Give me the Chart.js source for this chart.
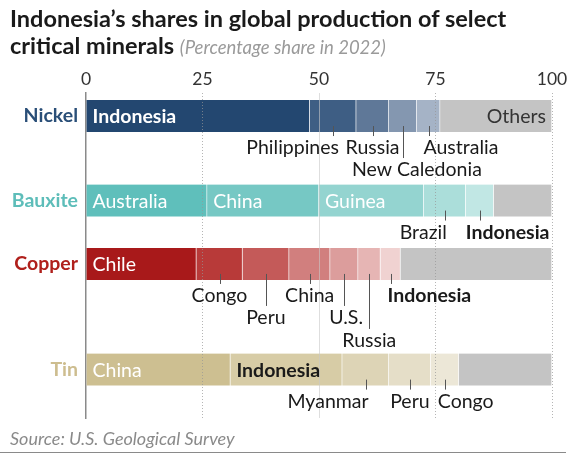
<!DOCTYPE html>
<html><head><meta charset="utf-8">
<script src="https://cdn.jsdelivr.net/npm/chart.js@4.4.1/dist/chart.umd.min.js"></script>
<style>
html,body{margin:0;padding:0;background:#fff;}
#wrap{position:relative;width:572px;height:455px;overflow:hidden;font-family:Lato,"Noto Sans",sans-serif;}
#c{position:absolute;left:0;top:0;}
.title{position:absolute;left:10px;top:5px;font-weight:700;font-size:23.5px;line-height:27px;color:#1a1a1a;white-space:nowrap;}
.title .sub{font-weight:400;font-style:italic;font-size:18.5px;color:#9a9a9a;}
.source{position:absolute;left:10px;top:427px;font-style:italic;font-size:18px;color:#8a8a8a;}
.rule{position:absolute;left:0;top:452px;width:566px;height:1px;background:#8a8a8a;}
</style></head>
<body>
<div id="wrap">
  <canvas id="c" width="572" height="455"></canvas>
  <div class="title">Indonesia’s shares in global production of select<br>critical minerals <span class="sub">(Percentage share in 2022)</span></div>
  <div class="source">Source: U.S. Geological Survey</div>
  <div class="rule"></div>
</div>
<script>
// ---------- DATA ----------
const minerals = ['Nickel', 'Bauxite', 'Copper', 'Tin'];
const nickelCountries  = ['Indonesia', 'Philippines', 'Russia', 'New Caledonia', 'Australia', 'Others'];
const nickelShares     = [48, 10, 7, 6, 5, 24];
const bauxiteCountries = ['Australia', 'China', 'Guinea', 'Brazil', 'Indonesia', 'Others'];
const bauxiteShares    = [26, 24, 22.5, 9, 6, 12.5];
const copperCountries  = ['Chile', 'Congo', 'Peru', 'China', 'U.S.', 'Russia', 'Indonesia', 'Others'];
const copperShares     = [23.7, 9.9, 10, 8.8, 6, 4.8, 4.3, 32.5];
const tinCountries     = ['China', 'Indonesia', 'Myanmar', 'Peru', 'Congo', 'Others'];
const tinShares        = [31, 24, 10, 9, 6, 20];
const tickValues       = [0, 25, 50, 75, 100];

// ---------- STYLE / LAYOUT (not data) ----------
const rowSlot = { Nickel: 0, Bauxite: 4, Copper: 7, Tin: 12 };
const mineralColor = { Nickel: '#2a4f78', Bauxite: '#5dbdb9', Copper: '#b0201c', Tin: '#cdbd8f' };
const OTHERS = '#c4c4c4';
const palette = {
  Nickel:  ['#234770', '#3e5e84', '#5f7898', '#8497b0', '#a5b3c6'],
  Bauxite: ['#5fbfbb', '#76c8c4', '#94d4d0', '#abdeda', '#c1e7e4'],
  Copper:  ['#a8191a', '#b83a39', '#c45a59', '#d17f7e', '#dc9d9c', '#e6b5b4', '#f0d2d1'],
  Tin:     ['#cdbf91', '#d7cca6', '#ddd4b6', '#e5dec8', '#ece7d7']
};
const labelLayout = {
  'Nickel|Indonesia':     { pos: 'in', bold: true, color: '#ffffff' },
  'Nickel|Others':        { pos: 'in', align: 'right', color: '#333333' },
  'Nickel|Philippines':   { pos: 'below', align: 'right', dx: 6, level: 1 },
  'Nickel|Russia':        { pos: 'below', align: 'center', dx: 0, level: 1 },
  'Nickel|New Caledonia': { pos: 'below', align: 'center', dx: 14, level: 2 },
  'Nickel|Australia':     { pos: 'below', align: 'left', dx: -5, level: 1 },
  'Bauxite|Australia':    { pos: 'in', color: '#ffffff' },
  'Bauxite|China':        { pos: 'in', color: '#ffffff' },
  'Bauxite|Guinea':       { pos: 'in', color: '#ffffff' },
  'Bauxite|Brazil':       { pos: 'below', align: 'right', dx: 2, level: 1 },
  'Bauxite|Indonesia':    { pos: 'below', align: 'left', dx: -14, level: 1, bold: true },
  'Copper|Chile':         { pos: 'in', color: '#ffffff' },
  'Copper|Congo':         { pos: 'below', align: 'center', dx: 0, level: 1 },
  'Copper|Peru':          { pos: 'below', align: 'center', dx: 0, level: 2 },
  'Copper|China':         { pos: 'below', align: 'center', dx: 0, level: 1 },
  'Copper|U.S.':          { pos: 'below', align: 'center', dx: 2, level: 2 },
  'Copper|Russia':        { pos: 'below', align: 'center', dx: 0, level: 3 },
  'Copper|Indonesia':     { pos: 'below', align: 'left', dx: -3, level: 1, bold: true },
  'Tin|China':            { pos: 'in', color: '#ffffff' },
  'Tin|Indonesia':        { pos: 'in', bold: true, color: '#1a1a1a' },
  'Tin|Myanmar':          { pos: 'below', align: 'right', dx: 3, level: 1 },
  'Tin|Peru':             { pos: 'below', align: 'center', dx: 0, level: 1 },
  'Tin|Congo':            { pos: 'below', align: 'left', dx: -7, level: 1 }
};
const levelOffset = { 1: 16, 2: 38, 3: 61 };
const FONT = 'Lato, "Noto Sans", sans-serif';
const LABEL_SIZE = 19.5;

// ---------- BUILD TABLE ----------
const series = {
  Nickel:  [nickelCountries, nickelShares],
  Bauxite: [bauxiteCountries, bauxiteShares],
  Copper:  [copperCountries, copperShares],
  Tin:     [tinCountries, tinShares]
};
const points = [], colors = [], segMeta = [];
minerals.forEach(m => {
  const [countries, shares] = series[m];
  let acc = 0;
  countries.forEach((c, i) => {
    points.push({ x: [acc, acc + shares[i]], y: rowSlot[m] });
    colors.push(c === 'Others' ? OTHERS : palette[m][i]);
    segMeta.push({ mineral: m, country: c });
    acc += shares[i];
  });
});
const slotToMineral = {};
minerals.forEach(m => slotToMineral[rowSlot[m]] = m);

const labelPlugin = {
  id: 'segLabels',
  afterDraw(chart) {
    const ctx = chart.ctx;
    const meta = chart.getDatasetMeta(0);
    ctx.save();
    segMeta.forEach((s, i) => {
      const L = labelLayout[s.mineral + '|' + s.country];
      if (!L) return;
      const el = meta.data[i];
      const left = Math.min(el.x, el.base), right = Math.max(el.x, el.base);
      const bottom = el.y + el.height / 2;
      ctx.font = (L.bold ? '700 ' : '400 ') + LABEL_SIZE + 'px ' + FONT;
      ctx.textBaseline = 'middle';
      if (L.pos === 'in') {
        ctx.fillStyle = L.color;
        if (L.align === 'right') { ctx.textAlign = 'right'; ctx.fillText(s.country, right - 6, el.y + 1); }
        else { ctx.textAlign = 'left'; ctx.fillText(s.country, left + 6, el.y + 1); }
      } else {
        const cx = (left + right) / 2;
        const ty = bottom + levelOffset[L.level];
        ctx.strokeStyle = '#555';
        ctx.lineWidth = 1;
        ctx.beginPath();
        ctx.moveTo(Math.round(cx) + 0.5, bottom - 6);
        ctx.lineTo(Math.round(cx) + 0.5, ty - 12);
        ctx.stroke();
        ctx.fillStyle = '#1a1a1a';
        ctx.textAlign = L.align;
        ctx.fillText(s.country, cx + (L.dx || 0), ty);
      }
    });
    ctx.restore();
  }
};

new Chart(document.getElementById('c'), {
  type: 'bar',
  data: {
    datasets: [{
      data: points,
      backgroundColor: colors,
      borderColor: '#ffffff',
      borderWidth: { top: 0, bottom: 0, left: 0, right: 1 },
      borderSkipped: false,
      barThickness: 32,
      grouped: false
    }]
  },
  options: {
    indexAxis: 'y',
    responsive: false,
    animation: false,
    events: [],
    layout: { padding: { left: 0, right: 20, top: 60, bottom: 37 } },
    plugins: { legend: { display: false }, tooltip: { enabled: false } },
    scales: {
      x: {
        type: 'linear', position: 'top', min: 0, max: 100,
        afterBuildTicks: s => { s.ticks = tickValues.map(v => ({ value: v })); },
        afterFit: s => { s.height = 33; },
        ticks: { color: '#333', font: { family: FONT, size: 17.5 }, padding: 3, maxRotation: 0 },
        grid: {
          drawTicks: false, z: 1, lineWidth: 1,
          color: c => (c.tick && (c.tick.value === 0 || c.tick.value === 50)) ? 'rgba(0,0,0,0)' : 'rgba(150,150,150,0.7)'
        },
        border: { display: false, dash: [1, 2] }
      },
      x2: {
        type: 'linear', position: 'top', min: 0, max: 100, axis: 'x',
        afterBuildTicks: s => { s.ticks = [{ value: 50 }]; },
        afterFit: s => { s.height = 0; },
        ticks: { display: false },
        grid: { drawTicks: false, z: 1, lineWidth: 1, color: 'rgba(200,200,200,0.6)' },
        border: { display: false }
      },
      y: {
        type: 'linear', position: 'left', min: -1.09, max: 14.29, reverse: true, offset: false,
        afterBuildTicks: s => { s.ticks = minerals.map(m => ({ value: rowSlot[m] })); },
        afterFit: s => { s.width = 86; },
        ticks: {
          padding: 8,
          font: { family: FONT, size: 19.5, weight: '700' },
          color: c => mineralColor[slotToMineral[c.tick.value]] || '#333',
          callback: v => slotToMineral[v] || ''
        },
        grid: { display: false, drawTicks: false, offset: false },
        border: { display: true, color: '#8a8a8a', width: 1.5 }
      }
    }
  },
  plugins: [labelPlugin]
});
</script>
</body></html>
